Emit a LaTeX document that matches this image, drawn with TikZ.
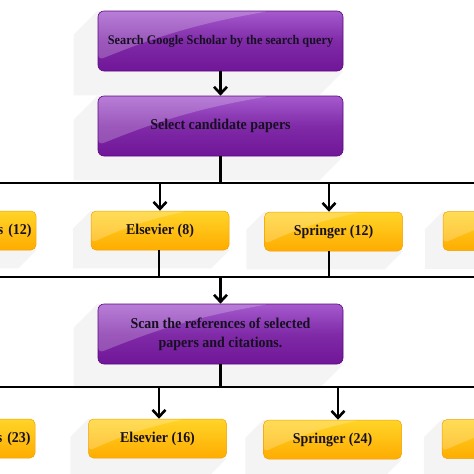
\documentclass[tikz,border=0pt]{standalone}
\usepackage{fontspec}
\setmainfont{Liberation Serif}[FakeStretch=0.93]
\usetikzlibrary{arrows.meta,calc}
\pgfdeclarelayer{background}
\pgfsetlayers{background,main}
\definecolor{purpA}{RGB}{165,90,205}
\definecolor{purpB}{RGB}{112,22,152}
\definecolor{purpE}{RGB}{92,8,128}
\definecolor{yelA}{RGB}{255,212,40}
\definecolor{yelB}{RGB}{255,172,0}
\definecolor{yelE}{RGB}{240,160,0}
\definecolor{txt}{RGB}{22,16,34}
\begin{document}
\begin{tikzpicture}[x=1pt,y=-1pt,
  gloss/.style={path picture={
    \coordinate (pnw) at (path picture bounding box.north west);
    \coordinate (pne) at (path picture bounding box.north east);
    \coordinate (psw) at (path picture bounding box.south west);
    \fill[white,opacity=0.22] (pnw) -- ($(pnw)!0.70!(pne)$) to[bend right=6] ($(pnw)!0.82!(psw)$) -- cycle;}},
  pbox/.style={gloss, rounded corners=6pt, draw=purpE, line width=0.6pt,
    top color=purpA, bottom color=purpB, middle color=purpB!70!purpA,
    minimum width=245pt, minimum height=60pt, text=txt, align=center,
    font=\fontsize{15}{19}\selectfont\bfseries},
  ybox/.style={gloss, rounded corners=5pt, draw=yelE, line width=0.5pt,
    top color=yelA, bottom color=yelB,
    minimum width=138pt, minimum height=39pt, text=txt,
    font=\fontsize{15}{17}\selectfont\bfseries},
  lbox/.style={ybox, text width=129pt, inner xsep=4.5pt, align=right},
  shadowc/.style={fill=black, opacity=0.045},
  conn/.style={line width=2.8pt, black},
  arr/.style={conn, -{Straight Barb[length=7pt,width=13pt,line width=2.6pt]}}
]
\useasboundingbox (0,0) rectangle (474,474);
\clip (0,0) rectangle (474,474);

% nodes
\node[pbox, font=\fontsize{13.2}{16}\selectfont\bfseries] (b1) at (220.5,41) {Search Google Scholar by the search query};
\node[pbox] (b2) at (220.5,126) {Select candidate papers};
\node[pbox] (b3) at (220.5,334) {Scan the references of selected\\papers and citations.};

\node[lbox] (l1) at (-33,230.5) {s (12)};
\node[ybox] (e1) at (160,230.5) {Elsevier (8)};
\node[ybox] (s1) at (333.5,231.5) {Springer (12)};
\node[ybox] (r1) at (512,231) {};

\node[lbox] (l2) at (-34,438.5) {s (23)};
\node[ybox] (e2) at (157.5,438.5) {Elsevier (16)};
\node[ybox] (s2) at (332.5,439.5) {Springer (24)};
\node[ybox] (r2) at (511,439) {};

% shadows
\begin{pgfonlayer}{background}
\fill[white] (0,0) rectangle (474,474);
\foreach \n/\d in {b1/24,b2/24,b3/24,e1/18,s1/18,r1/18,l1/18,e2/18,s2/18,r2/18}{
  \fill[shadowc] (\n.north west) -- ([shift={(-\d,\d)}]\n.north west) -- ([shift={(-\d,\d)}]\n.south west)
     -- ([shift={(-\d,\d)}]\n.south east) -- (\n.south east) -- cycle;
}
\end{pgfonlayer}

% bus coordinates
\coordinate (h1L) at (-5,183);  \coordinate (h1R) at (480,183);
\coordinate (h2L) at (-5,277);  \coordinate (h2R) at (480,277);
\coordinate (h3L) at (-5,387);  \coordinate (h3R) at (480,387);

% connectors
\draw[arr] (b1.south) -- (b2.north);
\draw[conn] (b2.south) -- (b2.south |- h1L);
\draw[conn] (h1L) -- (h1R);
\draw[arr] (e1.north |- h1L) -- (e1.north);
\draw[arr] ([xshift=-4.5pt]s1.north |- h1L) -- ([xshift=-4.5pt]s1.north);
\draw[conn] ([xshift=-1pt]e1.south) -- ([xshift=-1pt]e1.south |- h2L);
\draw[conn] ([xshift=-4.5pt]s1.south) -- ([xshift=-4.5pt]s1.south |- h2L);
\draw[conn] (h2L) -- (h2R);
\draw[arr] (b3.north |- h2L) -- (b3.north);
\draw[conn] (b3.south) -- (b3.south |- h3L);
\draw[conn] (h3L) -- (h3R);
\draw[arr] ([xshift=1.5pt]e2.north |- h3L) -- ([xshift=1.5pt]e2.north);
\draw[arr] ([xshift=5.5pt]s2.north |- h3L) -- ([xshift=5.5pt]s2.north);
\end{tikzpicture}
\end{document}
